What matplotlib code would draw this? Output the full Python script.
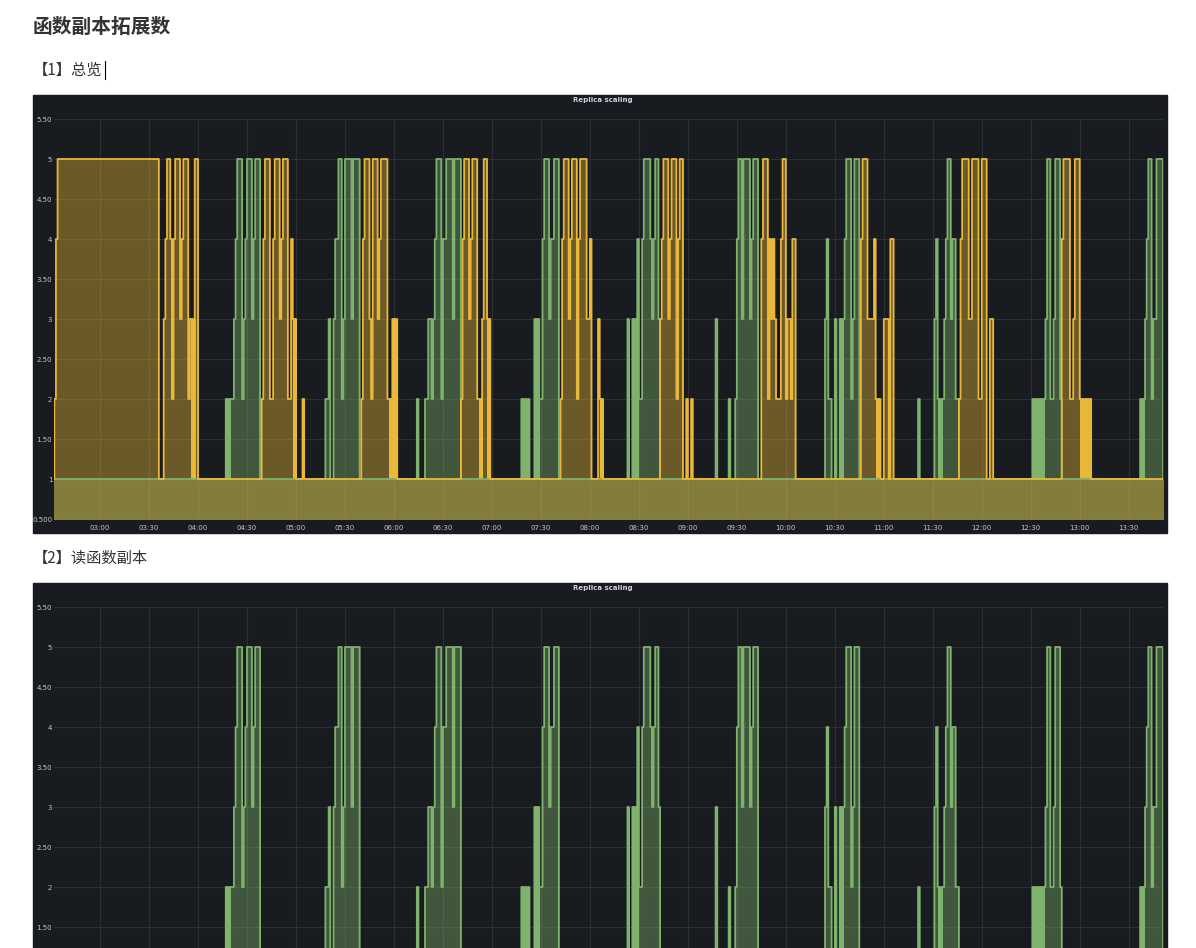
import numpy as np
import matplotlib.pyplot as plt
from matplotlib.patches import Rectangle
from matplotlib.lines import Line2D

W, H = 1196, 948
CJK = ['Noto Sans CJK SC', 'DejaVu Sans']

# minutes after 03:00, one digit per minute; replica count is 1 outside the bursts
green_bursts = [
    (77, "222223455523455534555"),
    (138, "223113445523555535555"),
    (194, "211112233234555244555535555"),
    (258, "22212111333224555344555"),
    (323, "31133342245555434553"),
    (377, "3"),
    (385, "211124553555534555"),
    (444, "342211311333455523555"),
    (501, "2111111111342222345534422"),
    (571, "222222223552235552"),
    (637, "22234552335555"),
]
yellow_bursts = [
    (-28, "24" + "5" * 62 + "111345542455534555233355"),
    (99, "24555224555345552243311112"),
    (160, "2455532555345555222333"),
    (221, "245553455522235533"),
    (282, "24555345552455553341111322"),
    (343, "34555345552455112112"),
    (405, "455524343222455233244"),
    (466, "45553333422211333144"),
    (526, "245555335555225551133"),
    (589, "455552235552222222"),
]
# stretches where the count flips so fast the lines merge into a solid bar
green_dense = [(77, 80, 2), (258, 261, 2), (266.5, 269.4, 3), (326.5, 329.8, 3),
               (452.7, 455.5, 3), (513.5, 516.5, 2), (571.5, 578.8, 2), (637.6, 640, 2)]
yellow_dense = [(55.9, 58.6, 3), (118, 120.4, 3), (176.8, 179, 2), (179, 182.4, 3),
                (231.8, 234.3, 2), (237.1, 239.2, 3), (306.1, 308.5, 2),
                (475.5, 478.4, 2), (600, 607.4, 2)]

y_ticks = [0.5, 1, 1.5, 2, 2.5, 3, 3.5, 4, 4.5, 5, 5.5]
y_labels = ['0.500', '1', '1.50', '2', '2.50', '3', '3.50', '4', '4.50', '5', '5.50']
x_ticks = list(range(0, 631, 30))
x_labels = ['03:00', '03:30', '04:00', '04:30', '05:00', '05:30', '06:00', '06:30',
            '07:00', '07:30', '08:00', '08:30', '09:00', '09:30', '10:00', '10:30',
            '11:00', '11:30', '12:00', '12:30', '13:00', '13:30']

minutes = np.arange(-29, 653)


def build(bursts):
    vals = np.ones(len(minutes))
    for start, digits in bursts:
        for i, ch in enumerate(digits):
            vals[start - minutes[0] + i] = int(ch)
    return vals


green = build(green_bursts)
yellow = build(yellow_bursts)

BG = '#181b1f'
GREEN = '#7eb26d'
YELLOW = '#eab839'


def box(x0, y0, x1, y1):
    return [x0 / W, 1 - y1 / H, (x1 - x0) / W, (y1 - y0) / H]


def draw_fill(ax, vals, dense, color):
    ax.fill_between(minutes, 0, vals, step='post', color=color, alpha=0.4, lw=0)
    for a, b, v in dense:
        ax.fill_between([a, b], 1, v, color=color, lw=0)


def draw_line(ax, vals, color):
    ax.step(minutes, vals, where='post', color=color, lw=1.3)


def setup(ax, first_tick=0, xlabels=True):
    ax.set_facecolor(BG)
    for s in ax.spines.values():
        s.set_visible(False)
    ax.set_xlim(-28.2, 651)
    ax.set_ylim(0.5, 5.5)
    ax.set_yticks(y_ticks[first_tick:])
    ax.set_yticklabels(y_labels[first_tick:])
    ax.set_xticks(x_ticks)
    ax.set_xticklabels(x_labels if xlabels else [])
    ax.tick_params(length=0, labelsize=5, colors='#c4c6cc')
    ax.tick_params(axis='y', pad=1.2)
    ax.tick_params(axis='x', pad=4)
    ax.grid(True, color='#2c2f34', lw=0.8)
    ax.set_axisbelow(True)


fig = plt.figure(figsize=(W / 100, H / 100), dpi=100)
fig.patch.set_facecolor('white')

fig.text(33 / W, 1 - 27 / H, '函数副本拓展数', fontsize=14.2, fontweight='bold',
         color='#333333', va='center', family=CJK)
fig.text(33 / W, 1 - 70 / H, '【1】总览', fontsize=11, color='#333333',
         va='center', family=CJK)
fig.add_artist(Line2D([104.5 / W, 104.5 / W], [1 - 79 / H, 1 - 61 / H],
                      color='black', lw=0.8))
fig.text(33 / W, 1 - 558 / H, '【2】读函数副本', fontsize=11, color='#333333',
         va='center', family=CJK)

# panel backgrounds, behind the axes
fig.add_artist(Rectangle((33 / W, 1 - 533 / H), 1134 / W, 438 / H,
                         transform=fig.transFigure, color=BG, zorder=-1))
fig.add_artist(Rectangle((33 / W, 0), 1134 / W, 365 / H,
                         transform=fig.transFigure, color=BG, zorder=-1))

# chart 1: both series, fills first then lines
ax1 = fig.add_axes(box(54, 119, 1163, 519))
setup(ax1)
draw_fill(ax1, green, green_dense, GREEN)
draw_fill(ax1, yellow, yellow_dense, YELLOW)
draw_line(ax1, green, GREEN)
draw_line(ax1, yellow, YELLOW)
fig.text(603 / W, 1 - 100 / H, 'Replica scaling', fontsize=5, fontweight='bold',
         color='#d0d0e0', ha='center', va='center')

# chart 2: read function only, runs off the bottom of the page
ax2 = fig.add_axes(box(54, 607, 1163, 1007))
setup(ax2, first_tick=2, xlabels=False)
draw_fill(ax2, green, green_dense, GREEN)
draw_line(ax2, green, GREEN)
fig.text(603 / W, 1 - 588 / H, 'Replica scaling', fontsize=5, fontweight='bold',
         color='#d0d0e0', ha='center', va='center')

fig.savefig('out.png', dpi=100, facecolor='white')
